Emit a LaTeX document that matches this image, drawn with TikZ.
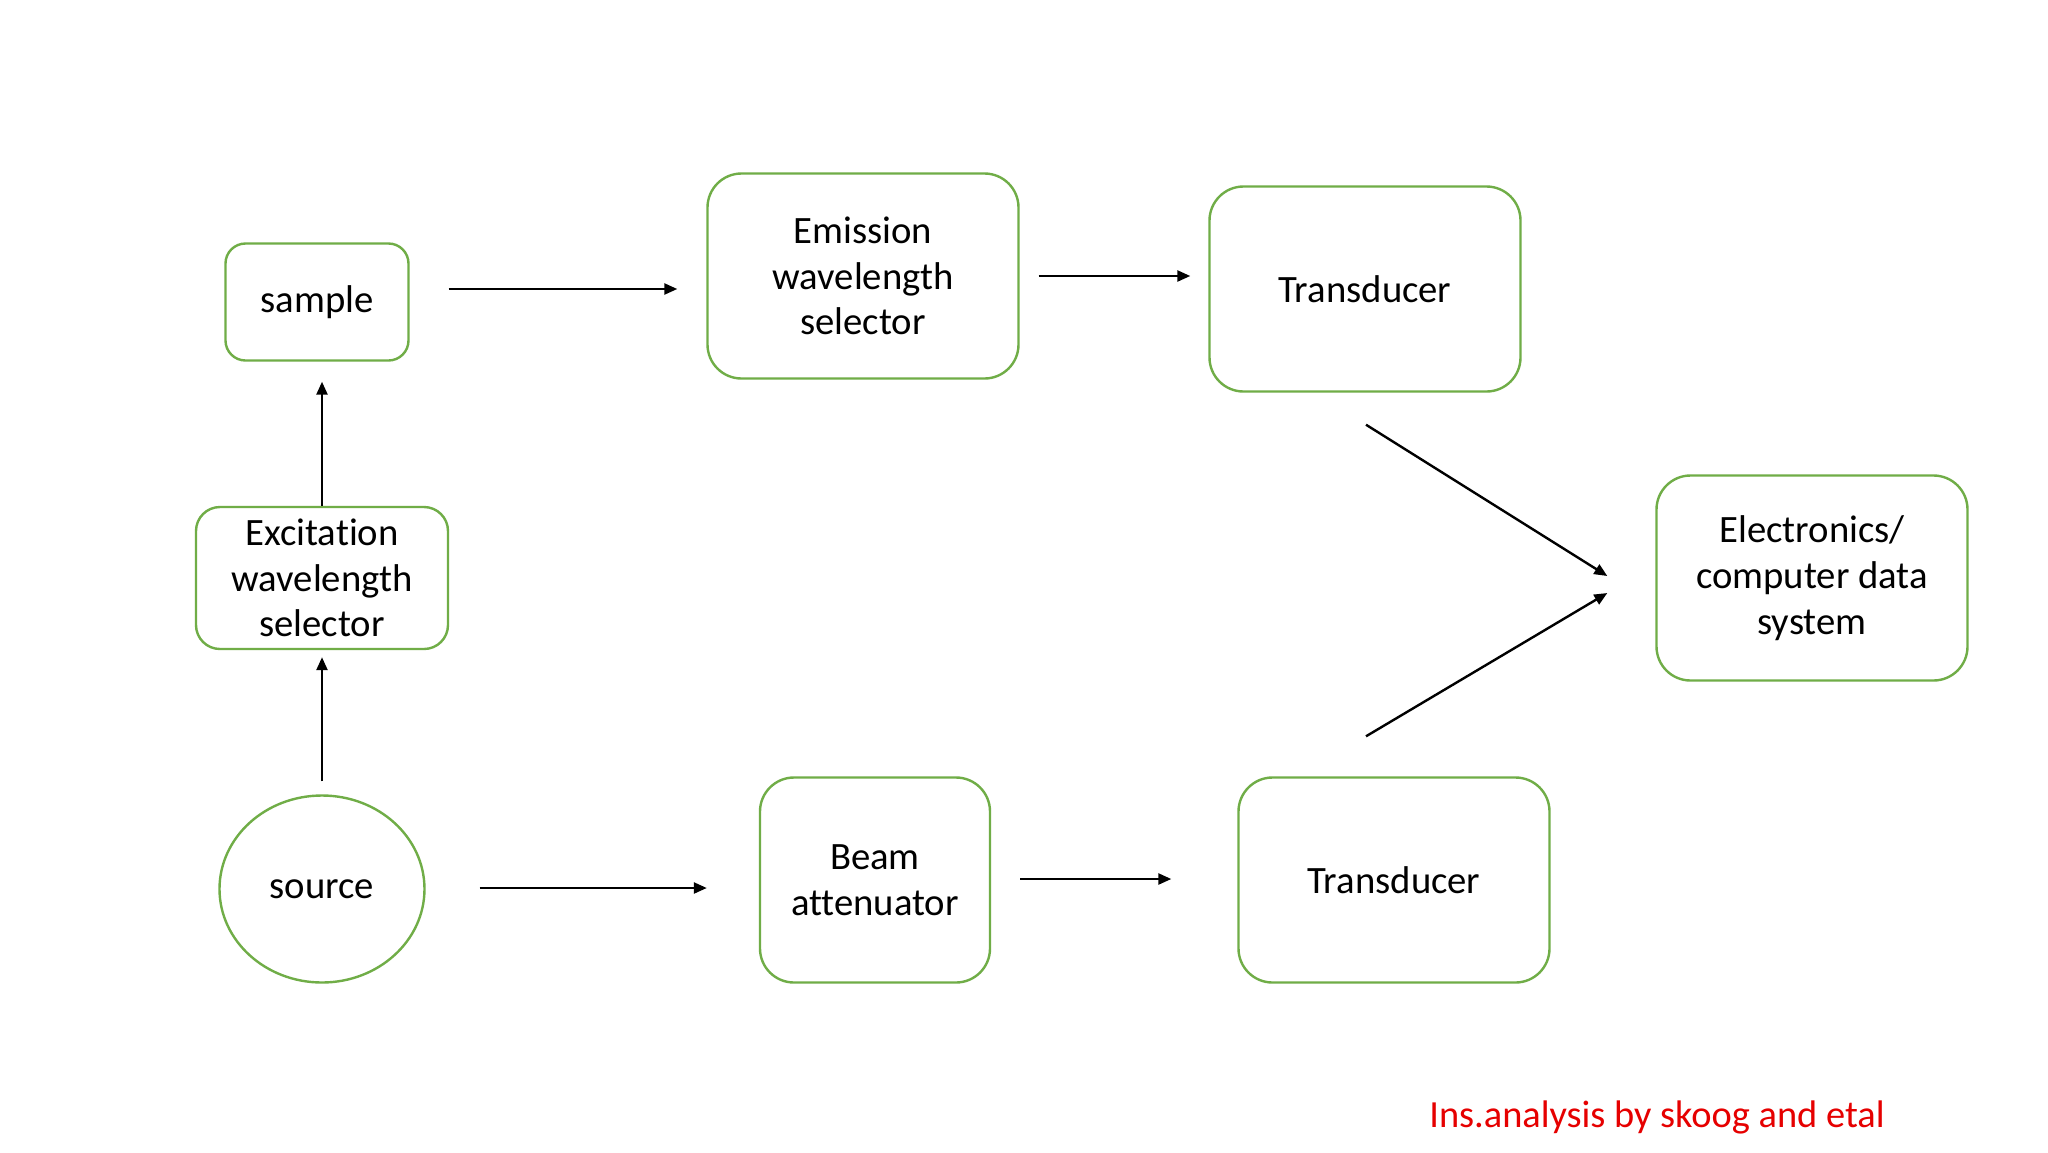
\documentclass[tikz,border=0pt]{standalone}
\usepackage{fontspec}
\setmainfont{Carlito}[Ligatures=NoCommon]
\usetikzlibrary{arrows.meta,calc,shapes.geometric}
\definecolor{boxgreen}{RGB}{112,173,71}
\definecolor{notered}{RGB}{230,0,0}
\begin{document}
\begin{tikzpicture}[x=1pt,y=-1pt,
  every node/.style={font=\fontsize{38.7}{45.7}\selectfont, align=center, inner sep=0pt},
  rbox/.style={draw=boxgreen, line width=2.4pt, rectangle},
  arr/.style={-{Triangle[length=13pt,width=11pt]}, line width=2.4pt, black}]
\fill[white] (0,0) rectangle (2048,1152);
\node[rbox, minimum width=183pt, minimum height=117pt, rounded corners=20pt] (sample) at (317,302) {sample};
\node[rbox, minimum width=311pt, minimum height=205pt, rounded corners=34pt] (emis) at (863,276) {Emission\\wavelength\\selector};
\node[rbox, minimum width=311pt, minimum height=205pt, rounded corners=34pt] (t1) at (1365,289) {Transducer};
\node[rbox, minimum width=311pt, minimum height=205pt, rounded corners=34pt] (elec) at (1812,578) {Electronics/\\computer data\\system};
\node[rbox, minimum width=252pt, minimum height=142pt, rounded corners=24pt] (exc) at (322,578) {Excitation\\wavelength\\selector};
\node[draw=boxgreen, line width=2.4pt, ellipse, minimum width=205pt, minimum height=187pt] (src) at (322,889) {source};
\node[rbox, minimum width=230pt, minimum height=205pt, rounded corners=34pt] (beam) at (875,880) {Beam\\attenuator};
\node[rbox, minimum width=311pt, minimum height=205pt, rounded corners=34pt] (t2) at (1394,880) {Transducer};
\node[text=notered, font=\fontsize{38.4}{45}\selectfont] (note) at (1657,1117) {Ins.analysis by skoog and etal};

\draw[arr] ([shift={(39,-13)}]sample.east) -- ([shift={(-29,13)}]emis.west);
\draw[arr] ([shift={(19,0)}]emis.east) -- ([shift={(-18,-13)}]t1.west);
\draw[arr] (exc.north) -- ($(exc.north |- sample.south)+(0,20)$);
\draw[arr] ($(src.north)+(0,-13)$) -- ($(exc.south)+(0,7)$);
\draw[arr] ([shift={(54,-1)}]src.east) -- ([shift={(-52,8)}]beam.west);
\draw[arr] ([shift={(29,-1)}]beam.east) -- ([shift={(-66,-1)}]t2.west);
\draw[arr] ([shift={(1,32)}]t1.south) -- ([shift={(-48,-2)}]elec.west);
\draw[arr] ([shift={(-28,-40)}]t2.north) -- ([shift={(-48,15)}]elec.west);
\end{tikzpicture}
\end{document}
